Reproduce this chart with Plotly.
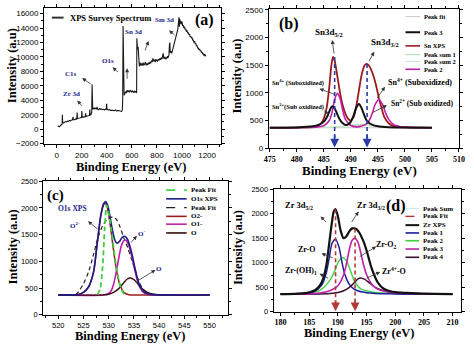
import plotly.graph_objects as go

W, H = 474, 349
SERIF = "Liberation Serif"
SANS = "Liberation Sans"

def px(x):
    return x / W

def py(y):
    return 1 - y / H

# ---------------- Panel (a): XPS survey spectrum ----------------
survey_energy = [
    8, 15, 22, 30, 38, 44, 46, 48, 55, 62,
    70, 78, 86, 94, 102, 110, 118, 126, 131, 133,
    136, 144, 152, 160, 164, 166, 170, 178, 186, 194,
    199, 201, 205, 212, 220, 228, 232, 234, 240, 248,
    256, 262, 265, 268, 274, 280, 283, 285, 288, 294,
    300, 306, 312, 318, 322, 326, 334, 342, 350, 358,
    366, 374, 382, 390, 396, 399, 402, 410, 420, 430,
    440, 450, 460, 470, 480, 490, 500, 510, 518, 524,
    527, 530, 532, 534, 538, 544, 550, 556, 562, 568,
    574, 580, 586, 592, 598, 604, 610, 616, 622, 628,
    634, 638, 640, 642, 645, 650, 655, 660, 666, 672,
    678, 684, 690, 696, 702, 708, 714, 720, 726, 732,
    738, 744, 750, 756, 762, 768, 774, 780, 786, 792,
    798, 804, 810, 816, 822, 828, 834, 840, 846, 850,
    854, 860, 866, 872, 878, 884, 890, 896, 900, 903,
    906, 912, 918, 924, 930, 936, 942, 948, 954, 960,
    966, 972, 976, 979, 982, 986, 990, 995, 1000, 1005,
    1010, 1015, 1020, 1025, 1030, 1035, 1040, 1045, 1050, 1055,
    1060, 1065, 1070, 1075, 1080, 1085, 1090, 1095, 1100, 1105,
    1110, 1115, 1120, 1125, 1130, 1135, 1140, 1145, 1150, 1155,
    1160, 1165, 1170, 1175, 1180, 1185, 1190,
]
survey_counts = [
    350, 420, 330, 520, 600, 720, 2000, 1000, 850, 950,
    1050, 1000, 1120, 1080, 1200, 1150, 1260, 1300, 1700, 1320,
    1350, 1300, 1420, 1380, 2300, 1450, 1500, 1480, 1550, 1600,
    1620, 2500, 1650, 1700, 1650, 1760, 2200, 1750, 1800, 1780,
    1850, 1900, 2700, 1950, 2000, 2300, 6200, 2900, 2750, 2850,
    2950, 2800, 2900, 2750, 3100, 2800, 2700, 2850, 2750, 2800,
    2700, 2750, 2650, 2800, 2700, 3500, 2750, 2650, 2700, 2600,
    2650, 2600, 2550, 2650, 2500, 2600, 2550, 2500, 2450, 2600,
    4000, 14300, 4800, 5100, 4700, 4900, 5200, 5000, 5400, 5200,
    5300, 5100, 5400, 5250, 5100, 5350, 5200, 5050, 5300, 5150,
    5200, 5000, 12600, 11800, 11000, 11400, 9800, 8700, 9200, 8800,
    9100, 8800, 9200, 8900, 9000, 9300, 8850, 9100, 8900, 9200,
    9000, 9300, 9100, 9500, 9300, 9800, 9400, 9600, 9300, 9700,
    9500, 9400, 9700, 9500, 9800, 9600, 9900, 9700, 10200, 10500,
    9800, 10000, 9700, 9900, 9800, 10100, 9900, 10300, 11800, 12000,
    10600, 10800, 10500, 10900, 11200, 11600, 12000, 12600, 12800, 13300,
    13800, 14800, 15500, 14200, 15300, 14600, 15000, 14500, 14900, 14300,
    14400, 14000, 14200, 13800, 13900, 13500, 13700, 13300, 13400, 13100,
    13200, 12800, 12900, 12600, 12700, 12300, 12400, 12000, 12200, 11800,
    11900, 11500, 11600, 11200, 11300, 11000, 11100, 10800, 10900, 10600,
    10700, 10400, 10500, 10200, 10400, 10100, 10300,
]
assert len(survey_energy) == len(survey_counts)

# ---------------- Panel (b): Sn 3d ----------------
sn_xps_x = [475, 480, 483, 484, 484.5, 485, 485.5, 486, 486.4, 486.7, 487, 487.5, 488, 488.5, 489,
            489.5, 490, 490.5, 491, 491.5, 492, 492.5, 492.8, 493.2, 493.7, 494.2, 494.7, 495.2,
            495.7, 496.2, 497, 498, 500, 505]
sn_xps_y = [370, 372, 385, 410, 450, 540, 720, 1100, 1500, 1650, 1580, 1300, 1000, 770, 620,
            530, 500, 560, 760, 1050, 1330, 1490, 1520, 1510, 1430, 1300, 1120, 900,
            720, 560, 450, 395, 375, 370]
sn_peak3_x = [475, 480, 483, 484, 485, 485.5, 486, 486.3, 486.6, 487, 487.5, 488, 488.5, 489, 489.5,
              490, 490.5, 491, 491.5, 492, 492.5, 493, 494, 495, 497, 500, 505]
sn_peak3_y = [370, 375, 395, 420, 480, 550, 660, 730, 760, 720, 610, 510, 450, 420, 430,
              480, 590, 730, 800, 720, 590, 490, 420, 395, 380, 372, 370]
sn_peak2_x = [475, 480, 484, 485, 486, 486.5, 487, 487.5, 488, 488.5, 489, 490, 491, 492, 493,
              493.5, 494, 494.5, 495.2, 495.8, 496.5, 497, 498, 500, 505]
sn_peak2_y = [370, 372, 385, 405, 500, 640, 880, 990, 900, 680, 520, 410, 385, 400, 450,
              520, 640, 790, 880, 800, 620, 520, 420, 380, 370]
sn_sum1_x = [475, 484, 486, 488, 490, 492, 494, 496, 498, 505]
sn_sum1_y = [370, 372, 380, 395, 420, 425, 410, 390, 375, 370]
sn_sum2_x = [475, 484, 486, 488, 490, 492, 494, 496, 498, 505]
sn_sum2_y = [368, 370, 376, 388, 405, 410, 400, 385, 372, 368]
sn_fit_x = [475, 505]
sn_fit_y = [370, 370]
sn_line_pos = [487, 493]
sn_line_top = [1650, 1520]

# ---------------- Panel (c): O 1s ----------------
o_xps_x = [520, 523, 524, 525, 526, 527, 527.5, 528, 528.5, 529, 529.4, 529.8, 530.3, 530.8, 531.3,
           531.7, 532.2, 532.7, 533.2, 533.7, 534.2, 534.7, 535.2, 535.7, 536.2, 537, 538, 540, 545, 550]
o_xps_y = [370, 372, 380, 420, 520, 800, 1150, 1560, 1900, 2080, 2120, 2050, 1820, 1560, 1380,
           1340, 1380, 1450, 1470, 1420, 1290, 1100, 880, 680, 540, 430, 385, 372, 370, 370]
o_o2_x = [520, 524, 525, 526, 527, 527.5, 528, 528.5, 529, 529.3, 529.7, 530.2, 530.7, 531.2,
          531.7, 532.2, 533, 534, 536, 550]
o_o2_y = [370, 380, 420, 520, 800, 1150, 1540, 1880, 2060, 2090, 2020, 1760, 1400, 1050,
          760, 570, 420, 375, 370, 370]
o_o1_x = [520, 529, 530, 530.5, 531, 531.5, 532, 532.5, 533, 533.3, 533.7, 534.2, 534.7, 535.2,
          535.7, 536.2, 537, 538, 540, 550]
o_o1_y = [370, 372, 400, 450, 580, 800, 1060, 1290, 1390, 1400, 1360, 1230, 1040, 830,
          640, 510, 410, 380, 372, 370]
o_o_x = [520, 529, 530, 531, 532, 533, 533.7, 534.3, 535, 535.7, 536.5, 537.5, 539, 550]
o_o_y = [370, 372, 385, 420, 490, 600, 670, 690, 660, 590, 500, 430, 385, 370]
o_fit_green_x = [527.8, 528.3, 528.8, 529.2, 529.6, 530, 530.5, 531, 531.5, 532, 532.5, 533, 533.5]
o_fit_green_y = [380, 480, 900, 1600, 2050, 1900, 1600, 1250, 900, 650, 480, 400, 375]
o_fit_black_x = [523.5, 524, 525, 526, 527, 528, 529, 530, 530.8, 531.5, 532.2, 533, 533.8, 534.5,
                 535.3, 536, 537, 538]
o_fit_black_y = [380, 430, 580, 800, 1130, 1480, 1700, 1810, 1830, 1790, 1660, 1440, 1250, 1050,
                 820, 620, 460, 390]

# ---------------- Panel (d): Zr 3d ----------------
zr_xps_x = [180, 183, 185, 186, 187, 187.5, 188, 188.5, 189, 189.3, 189.6, 190, 190.5, 191, 191.5,
            192, 192.5, 192.9, 193.3, 193.8, 194.3, 194.8, 195.3, 195.8, 196.3, 197, 198, 199, 200,
            202, 205, 210]
zr_xps_y = [360, 370, 395, 440, 560, 700, 950, 1400, 1850, 2050, 2090, 1950, 1650, 1500, 1540,
            1640, 1700, 1700, 1680, 1600, 1480, 1330, 1130, 920, 760, 590, 470, 425, 400,
            385, 370, 362]
zr_p1_x = [180, 184, 186, 187, 187.5, 188, 188.5, 189, 189.6, 190.2, 190.7, 191.2, 192, 193, 195, 200, 210]
zr_p1_y = [360, 380, 420, 520, 620, 800, 1100, 1400, 1480, 1320, 1020, 770, 560, 450, 390, 365, 360]
zr_p2_x = [180, 185, 187, 188, 189, 189.5, 190, 190.5, 191, 191.5, 192, 192.5, 193, 194, 196, 200, 210]
zr_p2_y = [360, 385, 450, 550, 720, 850, 1000, 1080, 1100, 1040, 900, 740, 600, 470, 400, 370, 360]
zr_p3_x = [180, 186, 188, 189, 190, 191, 191.5, 192, 192.5, 193, 193.5, 194, 194.5, 195, 196, 197,
           199, 202, 210]
zr_p3_y = [360, 375, 410, 450, 530, 750, 980, 1270, 1460, 1500, 1420, 1200, 950, 760, 550, 460,
           400, 375, 360]
zr_p4_x = [180, 188, 190, 191, 192, 193, 193.5, 194, 194.7, 195.5, 196.5, 198, 200, 205, 210]
zr_p4_y = [360, 370, 395, 430, 500, 610, 670, 690, 660, 590, 500, 430, 395, 370, 360]
zr_sum_x = [180, 185, 187, 188.5, 189.5, 190.5, 192, 194, 197, 200, 210]
zr_sum_y = [360, 400, 520, 700, 760, 700, 560, 460, 400, 375, 360]
zr_line_pos = [189.6, 193.0]
zr_line_top = [2090, 1700]

# ---------------- colours ----------------
NAVY = "#1c1c86"
DKRED = "#9b1c1c"
MAG = "#c020a8"
GREEN = "#3fcf3f"
LTGREEN = "#a8dca8"

fig = go.Figure()

def add(x, y, xa, ya, color, width=1.2, dash=None, shape="spline"):
    fig.add_trace(go.Scatter(
        x=x, y=y, xaxis=xa, yaxis=ya, mode="lines", showlegend=False,
        line=dict(color=color, width=width, dash=dash, shape=shape,
                  smoothing=0.8 if shape == "spline" else None),
        hoverinfo="skip"))

# (a)
add(survey_energy, survey_counts, "x", "y", "#1a1a1a", 1.1, shape="linear")

# (b)
add(sn_fit_x, sn_fit_y, "x2", "y2", "#c8c8c8", 1)
add(sn_sum1_x, sn_sum1_y, "x2", "y2", LTGREEN, 1)
add(sn_sum2_x, sn_sum2_y, "x2", "y2", "#c6e8c6", 1)
add(sn_xps_x, sn_xps_y, "x2", "y2", DKRED, 1.8)
add(sn_peak2_x, sn_peak2_y, "x2", "y2", MAG, 1.6)
add(sn_peak3_x, sn_peak3_y, "x2", "y2", "#111111", 2)
for xv, top in zip(sn_line_pos, sn_line_top):
    add([xv, xv], [top, 150], "x2", "y2", "#2a3aa8", 1.6, dash="4px,3px", shape="linear")

# (c)
add(o_fit_black_x, o_fit_black_y, "x3", "y3", "#222222", 1.2, dash="4px,3px")
add(o_o2_x, o_o2_y, "x3", "y3", DKRED, 1.5)
add(o_o1_x, o_o1_y, "x3", "y3", MAG, 1.6)
add(o_o_x, o_o_y, "x3", "y3", "#3a0d0d", 1.4)
add(o_xps_x, o_xps_y, "x3", "y3", NAVY, 1.6)
add(o_fit_green_x, o_fit_green_y, "x3", "y3", GREEN, 1.8, dash="5px,3px")

# (d)
add(zr_sum_x, zr_sum_y, "x4", "y4", "#c4ecec", 1)
add(zr_p2_x, zr_p2_y, "x4", "y4", GREEN, 1.4)
add(zr_p1_x, zr_p1_y, "x4", "y4", "#1f1f9a", 1.5)
add(zr_p4_x, zr_p4_y, "x4", "y4", "#3a1030", 1.5)
add(zr_p3_x, zr_p3_y, "x4", "y4", MAG, 1.6)
add(zr_xps_x, zr_xps_y, "x4", "y4", "#111111", 2.2)
for xv, top in zip(zr_line_pos, zr_line_top):
    add([xv, xv], [top, 150], "x4", "y4", "#b03a3a", 1.6, dash="4px,3px", shape="linear")

# ---------------- axes ----------------
def axis(**kw):
    d = dict(showline=True, linecolor="black", linewidth=1, mirror="ticks", ticks="outside",
             ticklen=3, tickwidth=1, tickcolor="black", showgrid=False, zeroline=False,
             tickformat="d", exponentformat="none",
             minor=dict(ticks="outside", ticklen=2, tickcolor="black", showgrid=False))
    d.update(kw)
    return d

sans8 = dict(family=SANS, size=8, color="black")
sans7 = dict(family=SANS, size=7.5, color="black")
serif8 = dict(family=SERIF, size=8, color="black", weight="bold")

layout = dict(
    width=W, height=H, margin=dict(l=0, r=0, t=0, b=0),
    paper_bgcolor="white", plot_bgcolor="white", showlegend=False,
    xaxis=axis(domain=[px(40), px(221)], anchor="y", range=[-100, 1310], tick0=0, dtick=200,
               tickfont=sans8),
    yaxis=axis(domain=[py(144), py(4)], anchor="x", range=[-2100, 16800], tick0=0, dtick=2000,
               tickfont=sans8),
    xaxis2=axis(domain=[px(270), px(465)], anchor="y2", range=[474.8, 510.05], tick0=475, dtick=5,
                tickfont=serif8),
    yaxis2=axis(domain=[py(148), py(5)], anchor="x2", range=[0, 2518], tick0=0, dtick=500,
                tickfont=sans8),
    xaxis3=axis(domain=[px(39), px(228)], anchor="y3", range=[517, 553.6], tick0=520, dtick=5,
                tickfont=sans7),
    yaxis3=axis(domain=[py(319), py(182)], anchor="x3", range=[0, 2500], tick0=0, dtick=500,
                tickfont=sans7),
    xaxis4=axis(domain=[px(275), px(467)], anchor="y4", range=[178.8, 211.5], tick0=180, dtick=5,
                tickfont=serif8),
    yaxis4=axis(domain=[py(316), py(190)], anchor="x4", range=[0, 2500], tick0=0, dtick=500,
                tickfont=sans7),
)
layout["xaxis"]["minor"]["dtick"] = 100
layout["yaxis"]["minor"]["dtick"] = 1000
for k in ["xaxis2", "xaxis3", "xaxis4"]:
    layout[k]["minor"]["dtick"] = 2.5
for k in ["yaxis2", "yaxis3", "yaxis4"]:
    layout[k]["minor"]["dtick"] = 250
fig.update_layout(**layout)

annotations = []
shapes = []

def text(x, y, s, size, color="black", anchor="center", angle=0, family=SERIF):
    annotations.append(dict(x=px(x), y=py(y), xref="paper", yref="paper", text="<b>" + s + "</b>",
                            showarrow=False, xanchor=anchor, yanchor="middle", textangle=angle,
                            font=dict(family=family, size=size, color=color)))

def arrow(hx, hy, tx, ty, color="#333333", width=0.8):
    annotations.append(dict(x=px(hx), y=py(hy), xref="paper", yref="paper", text="",
                            showarrow=True, ax=tx - hx, ay=ty - hy, arrowhead=2, arrowsize=1,
                            arrowwidth=width, arrowcolor=color, standoff=0, startstandoff=0))

def data_arrow(xa, ya, x, yhead, ytail, color):
    annotations.append(dict(x=x, y=yhead, xref=xa, yref=ya, axref=xa, ayref=ya, ax=x, ay=ytail,
                            text="", showarrow=True, arrowhead=2, arrowsize=1.1, arrowwidth=1.6,
                            arrowcolor=color, standoff=0))

def legend_line(x0, x1, y, color, width, dash=None):
    shapes.append(dict(type="line", xref="paper", yref="paper", x0=px(x0), x1=px(x1),
                       y0=py(y), y1=py(y), line=dict(color=color, width=width, dash=dash)))

# axis titles
for cx, cy, sz in [(129, 167, 12.5), (363, 171, 13), (128, 341, 12.5), (362, 338, 12.5)]:
    text(cx, cy, "Binding Energy (eV)", sz)
for cx, cy in [(8, 63), (238, 74), (8, 249), (238, 250)]:
    text(cx, cy, "Intensity (a.u)", 12.5, angle=-90)

# panel labels
text(204, 16, "(a)", 16)
text(291, 21, "(b)", 16)
text(52, 197, "(c)", 15)
text(400, 207, "(d)", 16)

# (a) legend + labels
legend_line(48, 60, 14, "#333333", 2)
text(64, 14, "XPS Survey Spectrum", 8.5, anchor="left")
text(68, 92, "Zr 3d", 7, NAVY)
text(68, 72, "C1s", 7, NAVY)
text(105, 59, "O1s", 7, NAVY)
text(132, 29, "Sn 3d", 7, NAVY)
text(163, 16, "Sm 3d", 7, NAVY)
arrow(74, 99, 80, 106)
arrow(79, 76, 89, 83)
arrow(110, 65, 117, 71)
arrow(125, 66, 125, 78)
arrow(147, 38, 143, 49)
arrow(168, 27, 175, 33)

# (b) legend
b_leg = [("Peak fit", "#c8c8c8", 1, None, 13), ("Peak 3", "#111111", 2, None, 29),
         ("Sn XPS", DKRED, 1.6, None, 43), ("Peak sum 1", LTGREEN, 1, None, 52),
         ("Peak sum 2", "#c6e8c6", 1, None, 59), ("Peak 2", MAG, 1.6, None, 67)]
for name, col, w, d, yy in b_leg:
    legend_line(410, 425, yy, col, w, d)
    text(427, yy, name, 6.5, anchor="left")
# (b) labels
text(332, 29, "Sn3d<sub>5/2</sub>", 9)
text(389, 40, "Sn3d<sub>3/2</sub>", 9)
text(300, 81, "Sn<sup>4+</sup> (Suboxidized)", 6.5)
text(300, 105, "Sn<sup>2+</sup>(Sub oxidized)", 6.5)
text(425, 80, "Sn<sup>4+</sup> (Suboxidized)", 8)
text(427, 102, "Sn<sup>2+</sup> (Sub oxidized)", 7.5)
arrow(335, 37, 337, 52)
arrow(378, 49, 372, 60)
arrow(322, 87, 338, 93)
arrow(327, 109, 333, 117)
arrow(389, 85, 380, 98)
arrow(391, 104, 375, 112)
for xv in sn_line_pos:
    data_arrow("x2", "y2", xv, 12, 260, "#2a3aa8")

# (c) legend
c_leg = [("Peak Fit", GREEN, 1.8, "dash", 191), ("O1s XPS", NAVY, 1.6, None, 200),
         ("Peak Fit", "#222222", 1.4, "dash", 209), ("O2-", DKRED, 1.6, None, 218),
         ("O1-", MAG, 1.6, None, 226), ("O", "#3a0d0d", 1.6, None, 235)]
for name, col, w, d, yy in c_leg:
    legend_line(165, 186, yy, col, w, d)
    text(188, yy, name, 7, anchor="left")
text(69, 210, "O1s XPS", 7.5, NAVY)
text(72, 227, "O<sup>2-</sup>", 7, NAVY)
text(140, 236, "O<sup>-</sup>", 7, NAVY)
text(158, 272, "O", 7, NAVY)
arrow(85, 223, 96, 232)
arrow(135, 238, 128, 246)
arrow(154, 273, 136, 284)

# (d) legend
d_leg = [("Peak Sum", "#c4ecec", 1, None, 210), ("Peak Fit", "#b03a3a", 1.4, "dash", 218),
         ("Zr XPS", "#111111", 2, None, 227), ("Peak 1", "#1f1f9a", 1.6, None, 235),
         ("Peak 2", GREEN, 1.6, None, 243), ("Peak 3", MAG, 1.6, None, 251.5),
         ("Peak 4", "#3a1030", 1.6, None, 260)]
for name, col, w, d, yy in d_leg:
    legend_line(410, 424, yy, col, w, d)
    text(426, yy, name, 7, anchor="left")
text(301, 207, "Zr 3d<sub>5/2</sub>", 8.5)
text(375, 207, "Zr 3d<sub>3/2</sub>", 8.5)
text(309, 252, "Zr-O", 8)
text(303, 274, "Zr-(OH)<sub>1</sub>", 8)
text(390, 247, "Zr-O<sub>2</sub>", 8)
text(398, 274, "Zr<sup>4+</sup>-O", 8)
arrow(323, 218, 330, 225)
arrow(362, 213, 354, 225)
arrow(324, 256, 337, 261)
arrow(322, 277, 332, 282)
arrow(380, 249, 362, 260)
arrow(384, 275, 369, 282)
for xv in zr_line_pos:
    data_arrow("x4", "y4", xv, 12, 260, "#b03a3a")

fig.update_layout(annotations=annotations, shapes=shapes)
fig.write_html("out.html")
